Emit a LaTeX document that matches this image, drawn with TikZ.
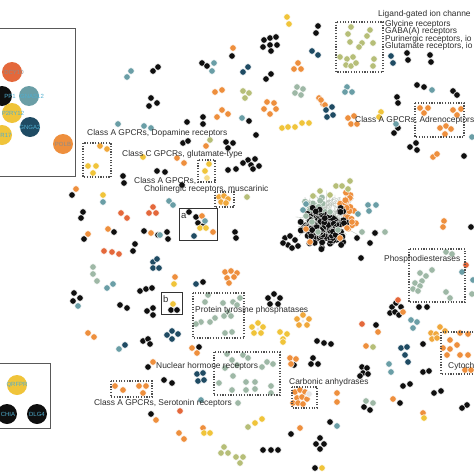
\documentclass[tikz,border=0pt]{standalone}
\usepackage{fontspec}
\setmainfont{Liberation Sans}
\usetikzlibrary{backgrounds}
\definecolor{blk}{HTML}{0F0F0F}
\definecolor{org}{HTML}{EE8F3D}
\definecolor{redo}{HTML}{E4683B}
\definecolor{yel}{HTML}{F0C43A}
\definecolor{ylo}{HTML}{F0A83C}
\definecolor{teal}{HTML}{6A9EA6}
\definecolor{navy}{HTML}{1F4B63}
\definecolor{olive}{HTML}{B6BE78}
\definecolor{sage}{HTML}{9EB8A6}
\definecolor{edgec}{HTML}{BFC7BF}
\definecolor{boxc}{HTML}{505050}
\definecolor{lblc}{HTML}{4FAED0}
\newcommand\mydots[2]{\foreach \px/\py in {#2}{\path[fill=#1,draw=white,line width=0.5pt] (\px,\py) circle (3.3pt);}}
\newcommand\myflower[3]{\mydots{#1}{#2}\fill[white!85!gray] #3 circle (1.6pt);}
\begin{document}
\begin{tikzpicture}[x=1pt,y=-1pt,
  lbl/.style={font=\fontsize{8.4}{9}\selectfont, anchor=west, inner sep=0pt, text=black!82},
  dotbox/.style={draw=boxc, dash pattern=on 1.2pt off 1.5pt, line width=1.1pt},
  solidbox/.style={draw=black!80, line width=0.9pt},
  inset/.style={draw=black!65, line width=0.9pt},
  big/.style={circle, minimum size=20pt, inner sep=0pt},
  ilbl/.style={inner sep=0pt, font=\fontsize{6}{6}\selectfont, text=lblc},
  iedge/.style={draw=black!35, line width=1.6pt},
  cdot/.style={draw=white, line width=0.3pt}]
\path[use as bounding box] (0,0) rectangle (474,474);
\clip (0,0) rectangle (474,474);
\fill[white] (0,0) rectangle (474,474);

% ---------- central cluster ----------
\pgfmathsetseed{11}
\foreach \i in {1,...,110}{
  \pgfmathsetmacro\ax{326+12*(rand+rand+rand)}\pgfmathsetmacro\ay{218+11*(rand+rand+rand)}
  \pgfmathsetmacro\bx{326+12*(rand+rand+rand)}\pgfmathsetmacro\by{218+11*(rand+rand+rand)}
  \draw[edgec, line width=0.4pt] (\ax,\ay) -- (\bx,\by);}
\foreach \i in {1,...,16}{
  \pgfmathsetmacro\ax{318+8*(rand+rand)}\pgfmathsetmacro\ay{204+5*(rand+rand)}
  \path[fill=sage,cdot] (\ax,\ay) circle (3.3pt);}
\foreach \i in {1,...,28}{
  \pgfmathsetmacro\ax{348+5*(rand+rand)}\pgfmathsetmacro\ay{210+11*(rand+rand)}
  \path[fill=org,cdot] (\ax,\ay) circle (3.3pt);}
\mydots{olive}{320/191,336/186,342/186,350/181,348/189,330/195,313/196}
\mydots{teal}{368/205,376/205,369/211,303/210,306/204,358/214}
\fill[blk] (324,227) ellipse (17pt and 14pt);
\foreach \i in {1,...,100}{
  \pgfmathsetmacro\ax{323+10.5*(rand+rand+rand)}\pgfmathsetmacro\ay{228+8.5*(rand+rand+rand)}
  \path[fill=blk,cdot] (\ax,\ay) circle (3.3pt);}
\foreach \i in {1,...,30}{
  \pgfmathsetmacro\ax{324+14*rand}\pgfmathsetmacro\ay{227+11*rand}
  \path[fill=blk,cdot] (\ax,\ay) circle (3.3pt);}
\draw[edgec, line width=0.4pt] (310,215) -- (330,235) (318,238) -- (340,220) (305,225) -- (325,212);
\mydots{sage}{306/216,312/222,330/212,318/232,338/230}
\mydots{org}{310/242,340/238,347/228,306/229,352/222}
\mydots{sage}{362/232}
\mydots{blk}{357/238,370/243,375/233,285/238,290/236,288/245,295/240,283/243,292/248,298/246}

% ---------- scattered dots ----------
\mydots{blk}{153/71,158/67,151/98,149/106,157/103,123/176,124/183,72/195,
318/26,316/33,264/40,270/38,276/37,263/47,270/45,277/45,271/51,
232/56,202/63,207/66,266/79,271/74,203/117,203/124,249/121,
407/53,408/60,430/55,431/62,417/85,424/87,453/91,457/95,397/97,398/103,398/128,394/133,410/147,416/143,417/150,464/156,
187/122,183/143,188/141,226/142,228/148,233/143,256/135,
248/160,251/165,255/159,259/166,253/169,243/163,228/170,236/169,157/171,165/172,182/185,
83/212,81/218,189/212,196/217,198/223,203/226,84/239,
167/232,168/239,235/232,236/238,114/232,144/231,158/235,135/244,133/251,
74/293,73/301,80/298,140/291,146/289,152/288,
120/305,127/308,147/311,153/308,153/315,143/341,148/339,150/344,
203/282,171/310,177/310,
199/347,148/367,164/380,172/383,151/414,263/450,271/450,278/450,294/365,313/358,311/364,318/364,
291/434,320/438,316/444,324/444,320/449,315/468,317/341,324/343,331/344,330/422,
471/227,375/233,361/258,376/325,419/307,427/307,423/344,
392/307,396/303,401/307,390/313,395/312,399/315,
362/367,367/368,363/373,368/374,360/376,
423/372,429/371,403/386,410/384,434/393,441/391,400/403,364/407,370/410,467/405,462/408}
\mydots{org}{76/189,233/48,298/63,294/69,301/69,215/92,222/90,319/98,323/104,
267/102,274/103,264/109,276/109,270/114,
222/110,217/117,228/114,321/100,325/105,348/118,354/116,351/124,357/124,
420/108,424/113,428/108,453/110,457/115,461/109,440/128,446/126,451/129,445/134,
433/157,437/154,206/146,177/158,184/163,
88/234,108/229,151/233,202/216,213/232,88/333,94/337,
225/272,231/271,237/273,227/278,234/277,229/283,175/277,192/348,197/353,
290/358,296/359,291/364,153/362,
115/386,123/390,139/386,146/386,143/393,
156/420,179/433,184/439,203/428,
295/392,300/390,305/392,297/398,302/397,307/399,293/403,298/403,303/404,
300/428,337/393,337/402,444/221,443/227,378/332,366/346,393/399,423/413,403/312,
460/333,468/334,450/340,443/348,450/349,457/345,447/355,460/355,468/355,465/370,471/370}
\mydots{white!80!gray}{309/394}
\mydots{redo}{121/213,127/218,153/207,149/213,156/213,104/251,112/252,119/254,466/265,398/300,180/411,362/324}
\mydots{yel}{88/166,96/166,93/173,143/157,287/17,289/24,381/112,379/117,209/164,205/171,103/195,
200/228,206/228,174/284,173/304,280/332,287/334,283/339,204/433,210/433,255/423,262/419,
282/128,288/127,295/127,302/123,309/123,283/342,322/468,424/418}
\mydots{yel!60!white}{207/178}
\mydots{ylo}{100/146,107/149,219/197,224/196,228/199,221/202,226/203,431/333,436/334,440/327,445/331,432/339,437/338}
\myflower{blk}{274/294,280/298,278/304,270/304,268/298}{(274,300)}
\myflower{yel}{258/323,263/327,261/333,254/333,252/327}{(258,329)}
\myflower{ylo}{303/315,309/319,307/325,299/325,297/319}{(303,321)}
\mydots{teal}{127/77,131/71,118/124,144/126,151/128,214/63,212/71,242/118,432/90,347/87,345/92,352/92,396/124,472/137,
103/202,169/201,173/205,205/221,160/235,107/288,113/284,78/306,119/349,201/400,337/426,
411/320,417/322,413/328,389/364,391/372,462/272,473/280}
\mydots{sage}{93/267,93/274,97/281,
208/295,205/302,223/303,233/302,240/298,237/305,228/312,224/316,231/316,215/318,210/322,201/322,196/324,225/333,232/332,
446/252,452/254,420/273,432/270,426/276,422/281,415/283,420/286,413/289,418/291,446/292,450/298,472/294,
297/87,303/89,295/93,301/95,385/232,366/401,373/403,
227/354,232/360,243/355,248/358,237/365,225/368,267/362,273/364,262/367,233/376,246/382,255/382,219/383,232/390,246/390,255/389,271/386,271/393,238/403}
\mydots{navy}{312/51,318/55,243/72,248/67,326/110,332/107,327/117,333/115,391/56,393/63,194/236,153/262,157/259,153/268,159/268,196/284,
172/331,178/334,172/339,167/335,125/345,197/374,203/373,198/381,204/380,401/348,407/347,405/355,408/362}
\mydots{olive}{351/27,348/34,350/42,362/43,367/36,370/30,373/43,359/47,340/57,347/59,353/57,346/65,351/66,356/63,374/59,373/66,
243/91,249/93,245/98,210/140,247/197,248/427,224/447,221/453,228/453,236/457,243/457,240/463,373/347}

% ---------- dotted boxes ----------
\draw[dotbox] (336,22) rectangle (383,72);
\draw[dotbox] (415,103) rectangle (464,137);
\draw[dotbox] (83,143) rectangle (111,177);
\draw[dotbox] (198,160) rectangle (215,182);
\draw[dotbox] (215,192) rectangle (234,207);
\draw[dotbox] (193,293) rectangle (244,338);
\draw[dotbox] (214,352) rectangle (280,395);
\draw[dotbox] (111,381) rectangle (152,397);
\draw[dotbox] (292,387) rectangle (317,408);
\draw[dotbox] (409,249) rectangle (465,302);
\draw[dotbox] (441,332) rectangle (480,374);
\draw[solidbox] (179,208) rectangle (217,240);
\draw[solidbox] (161,292) rectangle (182,314);

% ---------- labels ----------
\node[lbl] (lg0) at (378,14) {Ligand-gated ion channe};
\node[lbl] (lg1) at (385,24) {Glycine receptors};
\node[lbl] (lg2) at (385,31.5) {GABA(A) receptors};
\node[lbl] (lg3) at (385,39) {Purinergic receptors, io};
\node[lbl] (lg4) at (385,46.5) {Glutamate receptors, io};
\node[lbl] (adr) at (355,120) {Class A GPCRs, Adrenoceptors};
\node[lbl] (dop) at (87,133) {Class A GPCRs, Dopamine receptors};
\node[lbl] (glu) at (122,154) {Class C GPCRs, glutamate-type};
\node[lbl] (cho1) at (134,181) {Class A GPCRs,};
\node[lbl] (cho2) at (144,189) {Cholinergic receptors, muscarinic};
\node[lbl] (pde) at (384,259) {Phosphodiesterases};
\node[lbl] (ptp) at (195,310) {Protein tyrosine phosphatases};
\node[lbl] (nhr) at (156,366) {Nuclear hormone receptors};
\node[lbl, anchor=east] (ser) at (232,403) {Class A GPCRs, Serotonin receptors};
\node[lbl] (car) at (289,382) {Carbonic anhydrases};
\node[lbl] (cyp) at (448,366) {Cytoch};
\node[lbl, font=\fontsize{9.5}{10}\selectfont] (la) at (181,216) {a};
\node[lbl, font=\fontsize{9.5}{10}\selectfont] (lb) at (163,299) {b};

% ---------- inset 1 ----------
\fill[white] (-5,28) rectangle (75.5,176);
\draw[inset] (-5,28) rectangle (75.5,176);
\node[big, fill=redo] (adcy) at (12,72) {};
\node[big, fill=blk] (ppp) at (2,96) {};
\node[big, fill=teal] (gnas) at (29,96) {};
\node[big, fill=yel] (p2ry) at (12,113) {};
\node[big, fill=yel] (gpr) at (2,135) {};
\node[big, fill=navy] (gnga) at (30,127) {};
\node[big, fill=org] (polb) at (63,144) {};
\node[ilbl, text=black!45] (t1) at (14,72) {DCY10};
\node[ilbl] (t2) at (10,96) {PP1};
\node[ilbl] (t3) at (32,96) {GNAS12};
\node[ilbl] (t4) at (13,113) {P2RY12};
\node[ilbl] (t5) at (6,135) {R17};
\node[ilbl] (t6) at (30,127) {GNGA2};
\node[ilbl, text=black!45] (t7) at (63,144) {POLB};
\begin{pgfonlayer}{background}
\draw[iedge] (adcy) -- (ppp);
\draw[iedge] (adcy) -- (gnas);
\draw[iedge] (adcy) -- (p2ry);
\draw[iedge] (ppp) -- (gnas);
\draw[iedge] (ppp) -- (p2ry);
\draw[iedge] (gnas) -- (p2ry);
\draw[iedge] (gnas) -- (gnga);
\draw[iedge] (p2ry) -- (gnga);
\draw[iedge] (p2ry) -- (gpr);
\draw[iedge] (gnga) -- (polb);
\end{pgfonlayer}

% ---------- inset 2 ----------
\fill[white] (-5,363) rectangle (50,428);
\draw[inset] (-5,363) rectangle (50,428);
\node[big, fill=yel] (qrfp) at (17,385) {};
\node[big, fill=blk] (chia) at (7,414) {};
\node[big, fill=blk] (dlg) at (37,414) {};
\node[ilbl] (t8) at (17,385) {QRFPR};
\node[ilbl] (t9) at (8,414) {CHIA};
\node[ilbl] (t10) at (37,414) {DLG4};
\begin{pgfonlayer}{background}
\draw[iedge] (qrfp) -- (chia);
\draw[iedge] (qrfp) -- (dlg);
\draw[iedge] (chia) -- (dlg);
\end{pgfonlayer}
\end{tikzpicture}
\end{document}
